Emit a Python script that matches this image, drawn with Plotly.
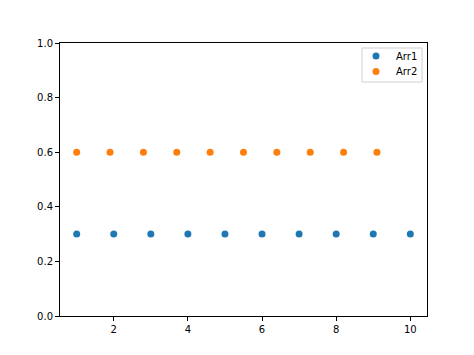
import plotly.graph_objects as go

arr1_x = [1, 2, 3, 4, 5, 6, 7, 8, 9, 10]
arr1_y = [0.3, 0.3, 0.3, 0.3, 0.3, 0.3, 0.3, 0.3, 0.3, 0.3]
arr2_x = [1.0, 1.9, 2.8, 3.7, 4.6, 5.5, 6.4, 7.3, 8.2, 9.1]
arr2_y = [0.6, 0.6, 0.6, 0.6, 0.6, 0.6, 0.6, 0.6, 0.6, 0.6]
x_ticks = [2, 4, 6, 8, 10]
y_ticks = [0.0, 0.2, 0.4, 0.6, 0.8, 1.0]
series = [("Arr1", arr1_x, arr1_y, "#1f77b4"), ("Arr2", arr2_x, arr2_y, "#ff7f0e")]

W, H = 474, 355
ML, MR, MT, MB = 60, 47, 43, 39
PW, PH = W - ML - MR, H - MT - MB

def px(x):
    return (x - ML) / PW

def py(y):
    return (H - MB - y) / PH

fig = go.Figure()
for name, xs, ys, col in series:
    fig.add_trace(go.Scatter(x=xs, y=ys, mode="markers", name=name,
                             marker=dict(color=col, size=7)))

axis_common = dict(showgrid=False, zeroline=False, showline=True, linecolor="black",
                   linewidth=1, mirror=True, ticks="outside", ticklen=4,
                   tickcolor="black", tickfont=dict(family="DejaVu Sans", size=10, color="black"))
fig.update_xaxes(range=[0.55, 10.45], tickvals=x_ticks, ticktext=[str(v) for v in x_ticks], **axis_common)
fig.update_yaxes(range=[0, 1], tickvals=y_ticks, ticktext=[f"{v:.1f}" for v in y_ticks], **axis_common)

# matplotlib-style legend box
fig.add_shape(type="rect", xref="paper", yref="paper",
              x0=px(362), x1=px(422), y0=py(82), y1=py(48),
              line=dict(color="#d0d0d0", width=1), fillcolor="rgba(255,255,255,0.8)")
r = 3.5
for i, (name, xs, ys, col) in enumerate(series):
    cy = 56 + i * 15.5
    fig.add_shape(type="circle", xref="paper", yref="paper",
                  x0=px(376 - r), x1=px(376 + r), y0=py(cy + r), y1=py(cy - r),
                  line=dict(width=0), fillcolor=col)
    fig.add_annotation(xref="paper", yref="paper", x=px(394), y=py(cy),
                       text=name, showarrow=False, xanchor="left", yanchor="middle",
                       font=dict(family="DejaVu Sans", size=10, color="black"))

fig.update_layout(
    width=W, height=H,
    margin=dict(l=ML, r=MR, t=MT, b=MB),
    plot_bgcolor="white", paper_bgcolor="white",
    font=dict(family="DejaVu Sans", size=10, color="black"),
    showlegend=False,
)
fig.write_html("out.html")
